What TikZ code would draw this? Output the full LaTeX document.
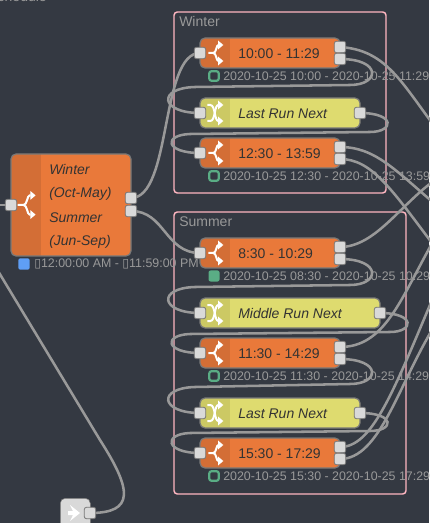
\documentclass[tikz,border=0pt]{standalone}
\usepackage{fontspec}
\setmainfont{Liberation Sans}
\newfontfamily\boxfont{DejaVu Sans}
\usepackage{xcolor}
\usetikzlibrary{positioning,arrows.meta}
\definecolor{canvas}{RGB}{52,57,66}
\definecolor{wirecol}{RGB}{153,153,153}
\definecolor{edgecol}{RGB}{120,120,120}
\definecolor{switchcol}{RGB}{233,121,58}
\definecolor{switchband}{RGB}{211,110,54}
\definecolor{nextcol}{RGB}{222,219,111}
\definecolor{nextband}{RGB}{204,201,100}
\definecolor{groupcol}{RGB}{255,182,193}
\definecolor{greencol}{RGB}{90,173,133}
\definecolor{bluecol}{RGB}{95,158,245}
\definecolor{portcol}{RGB}{217,217,217}
\definecolor{inkcol}{RGB}{51,51,51}
\definecolor{dimcol}{RGB}{153,153,153}
\pgfdeclarelayer{groups}
\pgfdeclarelayer{wires}
\pgfsetlayers{groups,wires,main}
\tikzset{
  flowbox/.style={draw=edgecol, line width=0.9pt, rounded corners=3.75pt, minimum height=22.5pt, inner sep=0pt, outer sep=0pt, anchor=north west,
    path picture={\fill[sharp corners, #1] (path picture bounding box.north west) rectangle ([xshift=22.5pt]path picture bounding box.south west);}},
  switchbox/.style={flowbox=switchband, fill=switchcol},
  nextbox/.style={flowbox=nextband, fill=nextcol},
  port/.style={draw=edgecol, fill=portcol, line width=0.6pt, rounded corners=1.5pt, minimum size=8.5pt, inner sep=0pt, outer sep=0pt},
  wire/.style={draw=wirecol, line width=1.9pt},
  groupbox/.style={draw=groupcol, line width=1.1pt, rounded corners=2.5pt, inner sep=0pt, outer sep=0pt, anchor=north west},
  grouplabel/.style={text=dimcol, font=\fontsize{10.5pt}{12pt}\selectfont, inner sep=0pt, anchor=west},
  nametext/.style={text=inkcol, font=\fontsize{10.5pt}{12pt}\selectfont, inner sep=0pt, anchor=west, yshift=-0.5pt},
  timetext/.style={text=dimcol, font=\fontsize{9.3pt}{11pt}\selectfont, inner sep=0pt, anchor=west},
  dotfull/.style={fill=greencol, rounded corners=1.5pt, minimum size=8.25pt, inner sep=0pt},
  dothollow/.style={draw=greencol, line width=1.7pt, rounded corners=1.5pt, minimum size=7pt, inner sep=0pt},
  iconline/.style={draw=white, line width=1.5pt, -{Triangle[length=4pt,width=6.5pt]}},
  forkicon/.pic={
    \draw[iconline] (-7,0) -- (-2,0) .. controls (1,0) and (1,-8) .. (3,-8) -- (8,-8);
    \draw[iconline] (-2,0) .. controls (1,0) and (1,8) .. (3,8) -- (8,8);
  },
  shuffleicon/.pic={
    \draw[iconline] (-8,-8) -- (-5,-8) .. controls (0,-8) and (-1,8) .. (3,8) -- (8,8);
    \draw[iconline] (-8,8) -- (-5,8) .. controls (0,8) and (-1,-8) .. (3,-8) -- (8,-8);
  }
}
\begin{document}
\begin{tikzpicture}[x=0.75pt, y=-0.75pt]
  \begin{pgfonlayer}{groups}
    \fill[canvas] (0,0) rectangle (429,523);
  \end{pgfonlayer}
  \useasboundingbox (0,0) rectangle (429,523);

  % groups
  \begin{pgfonlayer}{groups}
    \node[groupbox, minimum width=159pt, minimum height=135.75pt] (winterbox) at (174,12) {};
    \node[groupbox, minimum width=174pt, minimum height=211.5pt] (summerbox) at (174,212) {};
    \node[grouplabel] (winterlabel) at (179,22) {Winter};
    \node[grouplabel] (summerlabel) at (179,222) {Summer};
    \node[text=dimcol, font=\fontsize{10.5pt}{12pt}\selectfont, inner sep=0pt, anchor=base east] (tabtitle) at (47,2) {Schedule};
  \end{pgfonlayer}

  % season switch
  \node[switchbox, minimum width=90pt, minimum height=76.5pt] (season) at (11,154) {};
  \pic[scale=1.2] at (26,205) {forkicon};
  \node[nametext] (seasona) at (49,169) {\itshape Winter};
  \node[nametext] (seasonb) at (49,193) {\itshape (Oct-May)};
  \node[nametext] (seasonc) at (49,217) {\itshape Summer};
  \node[nametext] (seasond) at (49,241) {\itshape (Jun-Sep)};
  \node[port] (seasonin) at (11,205) {};
  \node[port] (seasonwin) at (131,198) {};
  \node[port] (seasonsum) at (131,211) {};

  % winter
  \node[switchbox, minimum width=105pt] (w1) at (200,38) {};
  \node[nextbox, minimum width=120pt, below=22.5pt of w1.south west, anchor=north west] (w2) {};
  \node[switchbox, minimum width=105pt, below=7.5pt of w2.south west, anchor=north west] (w3) {};
  \node[nametext] (w1name) at ([xshift=28.5pt]w1.west) {10:00 - 11:29};
  \node[nametext] (w2name) at ([xshift=28.5pt]w2.west) {\itshape Last Run Next};
  \node[nametext] (w3name) at ([xshift=28.5pt]w3.west) {12:30 - 13:59};
  \pic at ([xshift=11.5pt]w1.west) {forkicon};
  \pic at ([xshift=11.5pt]w2.west) {shuffleicon};
  \pic at ([xshift=11.5pt]w3.west) {forkicon};
  \node[port] (w1in) at (w1.west) {};
  \node[port] (w1a) at ([yshift=4.5pt]w1.east) {};
  \node[port] (w1b) at ([yshift=-4.5pt]w1.east) {};
  \node[port] (w2in) at (w2.west) {};
  \node[port] (w2out) at (w2.east) {};
  \node[port] (w3in) at (w3.west) {};
  \node[port] (w3a) at ([yshift=4.5pt]w3.east) {};
  \node[port] (w3b) at ([yshift=-4.5pt]w3.east) {};

  % summer
  \node[switchbox, minimum width=105pt] (s1) at (200,238) {};
  \node[nextbox, minimum width=135pt, below=22.5pt of s1.south west, anchor=north west] (s2) {};
  \node[switchbox, minimum width=105pt, below=7.5pt of s2.south west, anchor=north west] (s3) {};
  \node[nextbox, minimum width=120pt, below=22.5pt of s3.south west, anchor=north west] (s4) {};
  \node[switchbox, minimum width=105pt, below=7.5pt of s4.south west, anchor=north west] (s5) {};
  \node[nametext] (s1name) at ([xshift=28.5pt]s1.west) {8:30 - 10:29};
  \node[nametext] (s2name) at ([xshift=28.5pt]s2.west) {\itshape Middle Run Next};
  \node[nametext] (s3name) at ([xshift=28.5pt]s3.west) {11:30 - 14:29};
  \node[nametext] (s4name) at ([xshift=28.5pt]s4.west) {\itshape Last Run Next};
  \node[nametext] (s5name) at ([xshift=28.5pt]s5.west) {15:30 - 17:29};
  \pic at ([xshift=11.5pt]s1.west) {forkicon};
  \pic at ([xshift=11.5pt]s2.west) {shuffleicon};
  \pic at ([xshift=11.5pt]s3.west) {forkicon};
  \pic at ([xshift=11.5pt]s4.west) {shuffleicon};
  \pic at ([xshift=11.5pt]s5.west) {forkicon};
  \node[port] (s1in) at (s1.west) {};
  \node[port] (s1a) at ([yshift=4.5pt]s1.east) {};
  \node[port] (s1b) at ([yshift=-4.5pt]s1.east) {};
  \node[port] (s2in) at (s2.west) {};
  \node[port] (s2out) at (s2.east) {};
  \node[port] (s3in) at (s3.west) {};
  \node[port] (s3a) at ([yshift=4.5pt]s3.east) {};
  \node[port] (s3b) at ([yshift=-4.5pt]s3.east) {};
  \node[port] (s4in) at (s4.west) {};
  \node[port] (s4out) at (s4.east) {};
  \node[port] (s5in) at (s5.west) {};
  \node[port] (s5a) at ([yshift=4.5pt]s5.east) {};
  \node[port] (s5b) at ([yshift=-4.5pt]s5.east) {};

  % trigger at the bottom
  \node[draw=edgecol, fill=portcol, rounded corners=3.75pt, minimum width=22.5pt, minimum height=28pt, inner sep=0pt, anchor=north west] (trigger) at (60,498) {};
  \fill[white] (68,511) -- (73,511) -- (70,505) -- (80,513) -- (70,521) -- (73,515) -- (68,515) -- cycle;
  \node[port] (triggerout) at (90,513) {};

  % status lines
  \begin{pgfonlayer}{groups}
    \node[fill=bluecol, rounded corners=1.5pt, minimum size=8.5pt, inner sep=0pt] (seasondot) at (24,264) {};
    \node[timetext] (seasontime) at (34,264) {{\boxfont\char"25AF}12:00:00 AM - {\boxfont\char"25AF}11:59:00 PM};
    \node[dothollow] (w1dot) at (214,76) {};
    \node[timetext] (w1time) at (223,76) {2020-10-25 10:00 - 2020-10-25 11:29};
    \node[dothollow] (w3dot) at (214,176) {};
    \node[timetext] (w3time) at (223,176) {2020-10-25 12:30 - 2020-10-25 13:59};
    \node[dotfull] (s1dot) at (214,276) {};
    \node[timetext] (s1time) at (223,276) {2020-10-25 08:30 - 2020-10-25 10:29};
    \node[dothollow] (s3dot) at (214,376) {};
    \node[timetext] (s3time) at (223,376) {2020-10-25 11:30 - 2020-10-25 14:29};
    \node[dothollow] (s5dot) at (214,476) {};
    \node[timetext] (s5time) at (223,476) {2020-10-25 15:30 - 2020-10-25 17:29};
  \end{pgfonlayer}

  % free ends of the wires
  \coordinate (leftend) at (-5,205);
  \coordinate (cornerend) at (-5,266);
  \coordinate (bend) at (100,440);
  \coordinate (ra) at (435,127);
  \coordinate (rb) at (435,204);
  \coordinate (rc) at (435,247);
  \coordinate (rd) at (435,180);
  \coordinate (re) at (435,238);
  \coordinate (rf) at (435,293);
  \coordinate (rg) at (435,325);

  % wires
  \begin{pgfonlayer}{wires}
    \draw[wire] (leftend) -- (seasonin.center);
    \draw[wire] (seasonwin.center) .. controls (172,198) and (160,53) .. (w1in.center);
    \draw[wire] (seasonsum.center) .. controls (165,211) and (165,253) .. (s1in.center);
    \draw[wire] (w1b.center) .. controls (382,59) and (380,85) .. (350,85) -- (195,87) .. controls (157,88) and (160,113) .. (w2in.center);
    \draw[wire] (w2out.center) .. controls (396,113) and (394,132) .. (370,132) -- (190,134) .. controls (163,135) and (165,153) .. (w3in.center);
    \draw[wire] (s1b.center) .. controls (382,259) and (380,285) .. (350,285) -- (195,287) .. controls (157,288) and (160,313) .. (s2in.center);
    \draw[wire] (s2out.center) .. controls (416,313) and (414,332) .. (390,332) -- (190,334) .. controls (163,335) and (165,353) .. (s3in.center);
    \draw[wire] (s3b.center) .. controls (382,359) and (380,384) .. (350,384) -- (195,387) .. controls (157,388) and (160,413) .. (s4in.center);
    \draw[wire] (s4out.center) .. controls (396,413) and (394,431) .. (370,431) -- (190,433) .. controls (163,434) and (165,453) .. (s5in.center);
    \draw[wire] (w1a.center) .. controls (385,50) and (400,80) .. (ra);
    \draw[wire] (w3a.center) .. controls (375,147) and (395,170) .. (rb);
    \draw[wire] (w3b.center) .. controls (372,159) and (392,190) .. (rc);
    \draw[wire] (s1a.center) .. controls (375,247) and (400,205) .. (rd);
    \draw[wire] (s3a.center) .. controls (385,347) and (400,300) .. (re);
    \draw[wire] (s5a.center) .. controls (372,447) and (392,395) .. (rf);
    \draw[wire] (s5b.center) .. controls (380,459) and (398,385) .. (rg);
    \draw[wire] (triggerout.center) .. controls (135,513) and (132,490) .. (bend) -- (cornerend);
  \end{pgfonlayer}
\end{tikzpicture}
\end{document}
